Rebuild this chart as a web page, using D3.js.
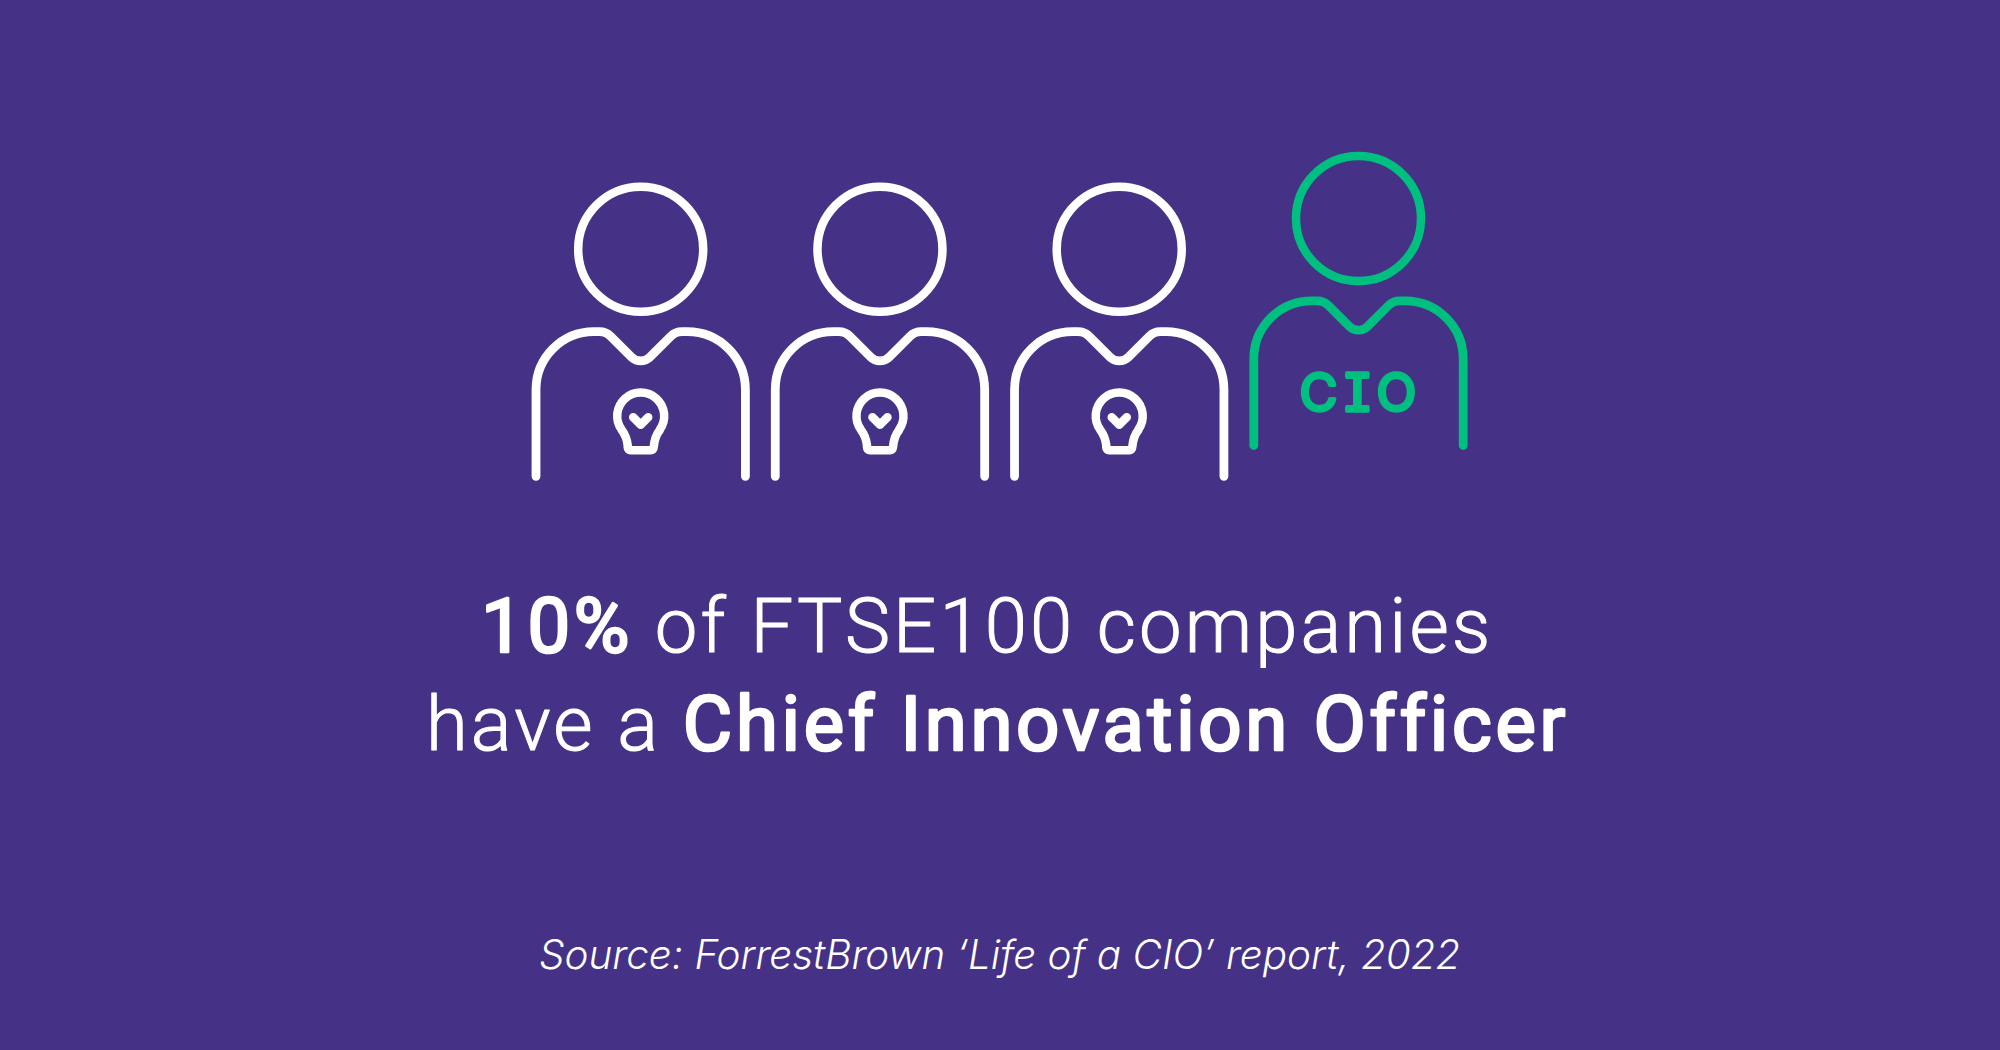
<!DOCTYPE html>
<html>
<head>
<meta charset="utf-8">
<script src="https://cdn.jsdelivr.net/npm/d3@7"></script>
<style>
  html, body { margin: 0; padding: 0; background: #453287; }
  svg { display: block; }
</style>
</head>
<body>
<svg id="chart" width="2000" height="1050"></svg>
<script>
"use strict";

// one figure per person, the last one is the CIO
const people = ["Innovator 1", "Innovator 2", "Innovator 3", "CIO"];
const roles = ["innovator", "innovator", "innovator", "cio"];
const badgeLetters = ["C", "I", "O"];
const lineOne = [["10%", true], [" of FTSE100 companies", false]];
const lineTwo = [["have a ", false], ["Chief Innovation Officer", true]];
const sourceText = "Source: ForrestBrown \u2018Life of a CIO\u2019 report, 2022";

const WHITE = "#ffffff";
const GREEN = "#00c080";

const svg = d3.select("#chart");

const x = d3.scalePoint().domain(people).range([640.7, 1358.5]);
const y = d3.scaleOrdinal().domain(["innovator", "cio"]).range([249.3, 218.5]);
const color = d3.scaleOrdinal().domain(["innovator", "cio"]).range([WHITE, GREEN]);
const badgeX = d3.scalePoint().domain(badgeLetters).range([-40, 38]);

function bodyPath() {
  const p = d3.path();
  p.moveTo(-104.7, 227);
  p.lineTo(-104.7, 140);
  p.arcTo(-104.7, 82.3, -46, 82.3, 58);
  p.lineTo(-46, 82.3);
  p.arcTo(-34.7, 82.3, 0, 117, 16);
  p.arcTo(0, 117, 34.7, 82.3, 13);
  p.arcTo(34.7, 82.3, 104.7, 82.3, 16);
  p.lineTo(46, 82.3);
  p.arcTo(104.7, 82.3, 104.7, 140, 58);
  p.lineTo(104.7, 227);
  return p.toString();
}

function bulbPath() {
  const p = d3.path();
  p.moveTo(-10, 201);
  p.lineTo(10, 201);
  p.arcTo(13, 201, 13, 196, 3);
  p.quadraticCurveTo(14, 187, 19, 181);
  p.arc(0, 166.7, 23.5, Math.PI * 0.2, -Math.PI * 1.2, true);
  p.quadraticCurveTo(-14, 187, -13, 196);
  p.arcTo(-13, 201, -10, 201, 3);
  p.closePath();
  return p.toString();
}

function heartPath() {
  const p = d3.path();
  p.moveTo(-7.5, 168);
  p.lineTo(0, 175.5);
  p.lineTo(7.5, 168);
  return p.toString();
}

const figure = svg.selectAll("g.person")
  .data(people)
  .enter()
  .append("g")
  .attr("class", "person")
  .attr("transform", (d, i) => `translate(${x(d)},${y(roles[i])})`)
  .attr("fill", "none")
  .attr("stroke", (d, i) => color(roles[i]))
  .attr("stroke-linecap", "round")
  .attr("stroke-linejoin", "round");

figure.append("circle")
  .attr("r", 62.5)
  .attr("stroke-width", 8.5);

figure.append("path")
  .attr("d", bodyPath())
  .attr("stroke-width", 8.8);

const innovators = figure.filter((d, i) => roles[i] === "innovator");

innovators.append("path")
  .attr("d", bulbPath())
  .attr("stroke-width", 8.5);

innovators.append("path")
  .attr("d", heartPath())
  .attr("stroke-width", 8.5);

// CIO badge
figure.filter((d, i) => roles[i] === "cio")
  .selectAll("text")
  .data(badgeLetters)
  .enter()
  .append("text")
  .attr("x", d => badgeX(d))
  .attr("y", 192)
  .attr("text-anchor", "middle")
  .attr("font-family", d => d === "I" ? "'DejaVu Sans Mono'" : "Inter")
  .attr("font-size", 52)
  .attr("fill", GREEN)
  .attr("stroke-width", 3.5)
  .text(d => d);

function headline(parts, baseline, xStart) {
  const t = svg.append("text")
    .attr("x", xStart)
    .attr("y", baseline)
    .attr("font-family", "Roboto")
    .attr("font-size", 76)
    .attr("fill", WHITE)
    .attr("stroke", WHITE)
    .attr("stroke-linejoin", "round")
    .style("white-space", "pre");
  t.selectAll("tspan")
    .data(parts)
    .enter()
    .append("tspan")
    .attr("font-weight", d => d[1] ? 400 : 300)
    .attr("stroke-width", d => d[1] ? 2.6 : 1)
    .attr("letter-spacing", d => d[1] ? 3.7 : 3.1)
    .text(d => d[0]);
}

headline(lineOne, 652, 481);
headline(lineTwo, 749.5, 426);

svg.append("text")
  .attr("x", 539)
  .attr("y", 969)
  .attr("font-family", "Inter")
  .attr("font-weight", 300)
  .attr("font-style", "italic")
  .attr("font-size", 40.4)
  .attr("fill", WHITE)
  .text(sourceText);
</script>
</body>
</html>
